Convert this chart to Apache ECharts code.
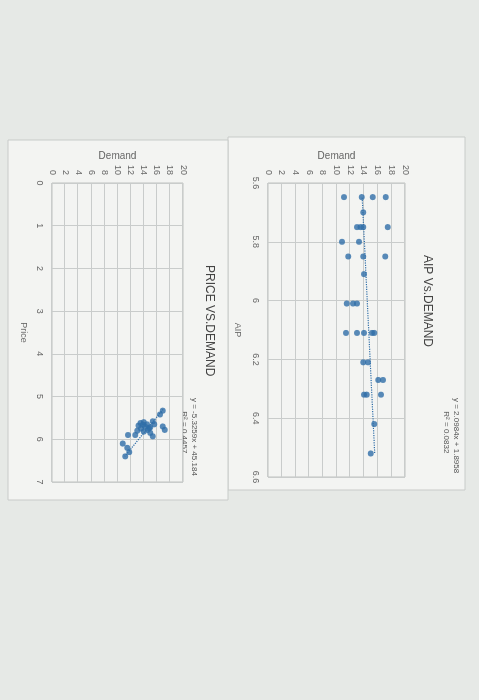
<!DOCTYPE html>
<html><head><meta charset="utf-8">
<script src="https://cdn.jsdelivr.net/npm/echarts@6/dist/echarts.min.js"></script>
<style>
html,body{margin:0;padding:0;width:479px;height:700px;overflow:hidden;background:#e6e9e6;}
#c{position:absolute;left:0;top:0;width:700px;height:479px;transform-origin:0 0;transform:translate(479px,0) rotate(90deg);}
</style></head><body>
<div id="c"></div>
<script>
const aipDemand = [
 [5.648,11.1],[5.648,13.7],[5.648,15.3],[5.648,17.2],[5.70,13.9],
 [5.75,13.0],[5.75,13.5],[5.75,13.9],[5.75,17.5],[5.80,10.8],[5.80,13.3],
 [5.85,11.7],[5.85,13.9],[5.85,17.1],[5.91,14.0],[6.01,11.5],[6.01,12.4],[6.01,13.0],
 [6.11,11.4],[6.11,13.0],[6.11,14.0],[6.11,15.2],[6.11,15.5],
 [6.21,13.9],[6.21,14.6],[6.27,16.1],[6.27,16.8],[6.32,14.0],[6.32,14.4],[6.32,16.5],
 [6.42,15.5],[6.52,15.0]
];
const priceDemand = [
 [5.33,16.9],[5.42,16.5],[5.58,15.4],[5.60,14.0],[5.62,13.5],[5.65,14.5],[5.68,13.2],
 [5.70,14.2],[5.72,15.0],[5.75,13.6],[5.78,14.6],[5.80,13.0],[5.82,14.0],[5.70,16.9],
 [5.78,17.2],[5.93,15.4],[5.90,11.6],[5.90,12.7],[6.10,10.8],[6.20,11.5],[6.30,11.8],
 [6.40,11.2],[5.65,15.6],[5.85,15.0],[5.74,14.8],[5.66,13.9]
];
const trend1 = {slope:2.0984, icept:1.8958, r2:0.0832, from:5.65, to:6.52};
const trend2 = {slope:-5.3259, icept:45.184, r2:0.4457, from:5.3, to:6.4};
const aipTicks = {min:5.6, max:6.6, step:0.2};
const priceTicks = {min:0, max:7, step:1};
const demandTicks = {min:0, max:20, step:2};

const ch = echarts.init(document.getElementById('c'));
const gray = '#666';
const lineFor = t => [[t.from, t.slope*t.from+t.icept],[t.to, t.slope*t.to+t.icept]];
const xAx = (gi, tk, name, nameGap) => ({gridIndex:gi, type:'value', min:tk.min, max:tk.max, interval:tk.step,
  name:name, nameLocation:'middle', nameGap:nameGap, nameTextStyle:{color:gray,fontSize:9},
  axisLine:{show:false}, axisTick:{show:false},
  axisLabel:{color:gray,fontSize:9,formatter:v=>String(Math.round(v*10)/10)},
  splitLine:{show:true,lineStyle:{color:'#c9cccb',width:1}}});
const yAx = gi => ({gridIndex:gi, type:'value', min:demandTicks.min, max:demandTicks.max, interval:demandTicks.step,
  name:'Demand', nameLocation:'middle', nameGap:22, nameTextStyle:{color:gray,fontSize:10},
  axisLine:{show:false}, axisTick:{show:false}, axisLabel:{color:gray,fontSize:9},
  splitLine:{show:true,lineStyle:{color:'#c9cccb',width:1}}});
ch.setOption({
  animation:false,
  graphic:[
    {type:'rect',shape:{x:137,y:14,width:353,height:237},style:{fill:'#f3f4f2',stroke:'#c8cbc9',lineWidth:1},z:-10},
    {type:'rect',shape:{x:140,y:251,width:360,height:220},style:{fill:'#f3f4f2',stroke:'#c8cbc9',lineWidth:1},z:-10},
    {type:'text',left:255,top:46,style:{text:'AIP Vs.DEMAND',fontSize:12,fill:'#444',fontFamily:'Liberation Sans'}},
    {type:'text',left:265,top:264,style:{text:'PRICE VS.DEMAND',fontSize:12,fill:'#444',fontFamily:'Liberation Sans'}},
    {type:'text',left:398,top:18,style:{text:'y = '+trend1.slope+'x + '+trend1.icept+'\n      R² = '+trend1.r2,fontSize:8,fill:'#555',lineHeight:10}},
    {type:'text',left:398,top:280,style:{text:'y = '+trend2.slope+'x + '+trend2.icept+'\n      R² = '+trend2.r2,fontSize:8,fill:'#555',lineHeight:10}}
  ],
  grid:[
    {left:183,top:74,width:294,height:137,show:true,borderColor:'#bfc2c0',backgroundColor:'transparent'},
    {left:183,top:296,width:299,height:131,show:true,borderColor:'#bfc2c0',backgroundColor:'transparent'}
  ],
  xAxis:[xAx(0,aipTicks,'AIP',26), xAx(1,priceTicks,'Price',24)],
  yAxis:[yAx(0), yAx(1)],
  series:[
    {type:'scatter',xAxisIndex:0,yAxisIndex:0,data:aipDemand,symbolSize:6,itemStyle:{color:'#2f6ea8'}},
    {type:'line',xAxisIndex:0,yAxisIndex:0,data:lineFor(trend1),symbol:'none',lineStyle:{color:'#2f6ea8',type:'dotted',width:1.2}},
    {type:'scatter',xAxisIndex:1,yAxisIndex:1,data:priceDemand,symbolSize:6,itemStyle:{color:'#2f6ea8'}},
    {type:'line',xAxisIndex:1,yAxisIndex:1,data:lineFor(trend2),symbol:'none',lineStyle:{color:'#2f6ea8',type:'dotted',width:1.2}}
  ]
});
</script></body></html>
